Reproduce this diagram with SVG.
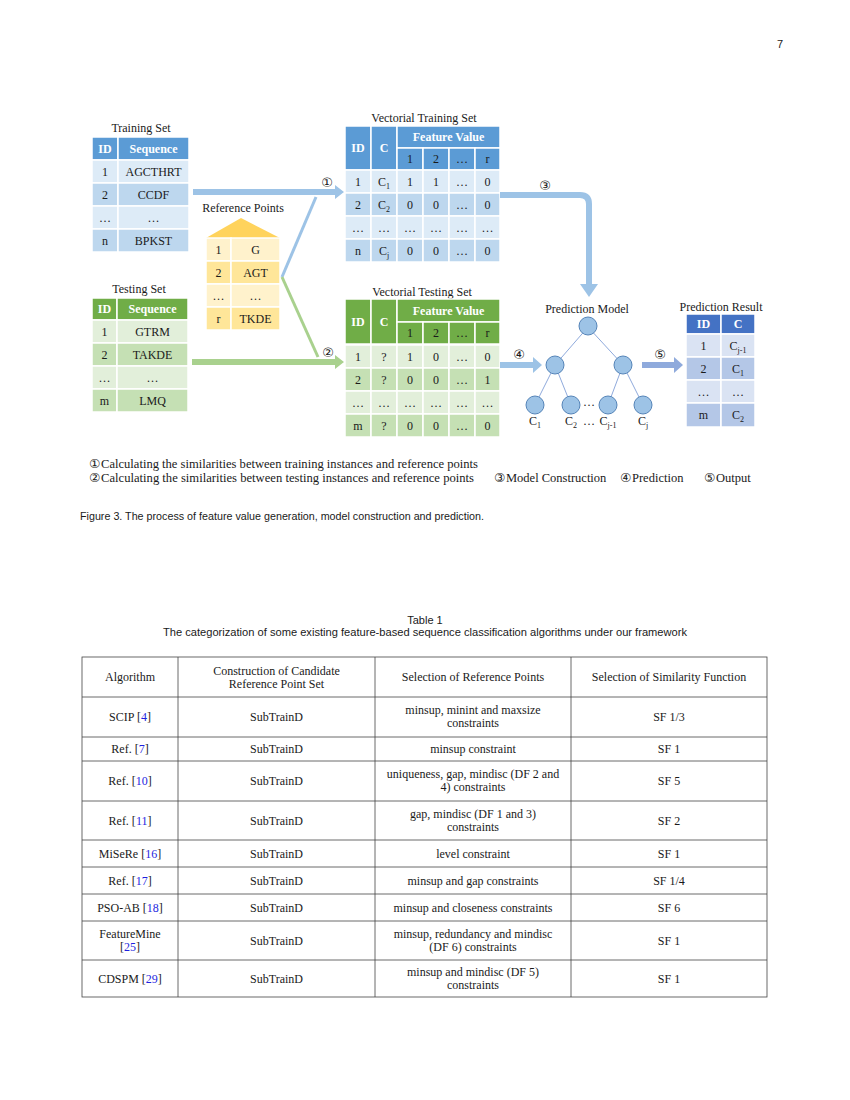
<svg xmlns="http://www.w3.org/2000/svg" width="850" height="1100" viewBox="0 0 850 1100">
<style>
text{font-family:"Liberation Serif","Times New Roman",serif;font-size:12px;fill:#1a1a1a}
.m{text-anchor:middle}
.hw{font-weight:bold;fill:#fff}
.sub{font-size:8px}
rect.c{stroke:#fff;stroke-width:1.5}
.bh{fill:#5B9BD5}.b1{fill:#DDEBF7}.b2{fill:#BDD7EE}
.gh{fill:#70AD47}.g1{fill:#E2EFDA}.g2{fill:#C5E0B4}
.y1{fill:#FFF2CC}.y2{fill:#FFE699}
.ph{fill:#4472C4}.p1{fill:#DAE3F3}.p2{fill:#B4C7E7}
.sans{font-family:"Liberation Sans",Arial,sans-serif;font-size:11px}
.lbl{font-family:"DejaVu Sans",sans-serif;font-size:13px}
.circ{font-family:"DejaVu Sans",sans-serif;font-size:12.5px}
.lg{font-size:12.5px}
.tb{font-size:12px}
.ref{fill:#1f1fe0}
.grid{stroke:#444;stroke-width:0.8;fill:none}
.node{fill:#9DC3E6;stroke:#5584B8;stroke-width:1}
.edge{stroke:#8FAADC;stroke-width:1}
</style>

<text class="sans" x="777" y="48" font-size="10">7</text>

<g id="training-set">
<text class="m" x="141" y="132">Training Set</text>
<rect class="c bh" x="92" y="137" width="26" height="23"/><rect class="c bh" x="118" y="137" width="71" height="23"/>
<rect class="c b1" x="92" y="160" width="26" height="23"/><rect class="c b1" x="118" y="160" width="71" height="23"/>
<rect class="c b2" x="92" y="183" width="26" height="23"/><rect class="c b2" x="118" y="183" width="71" height="23"/>
<rect class="c b1" x="92" y="206" width="26" height="23"/><rect class="c b1" x="118" y="206" width="71" height="23"/>
<rect class="c b2" x="92" y="229" width="26" height="23"/><rect class="c b2" x="118" y="229" width="71" height="23"/>
<text class="m hw" x="105" y="152.5">ID</text><text class="m hw" x="153.5" y="152.5">Sequence</text>
<text class="m" x="105" y="175.5">1</text><text class="m" x="153.5" y="175.5">AGCTHRT</text>
<text class="m" x="105" y="198.5">2</text><text class="m" x="153.5" y="198.5">CCDF</text>
<text class="m" x="105" y="221.5">…</text><text class="m" x="153.5" y="221.5">…</text>
<text class="m" x="105" y="244.5">n</text><text class="m" x="153.5" y="244.5">BPKST</text>
</g>

<g id="testing-set">
<text class="m" x="139" y="293">Testing Set</text>
<rect class="c gh" x="92" y="298" width="25" height="22"/><rect class="c gh" x="117" y="298" width="71" height="22"/>
<rect class="c g1" x="92" y="320" width="25" height="23"/><rect class="c g1" x="117" y="320" width="71" height="23"/>
<rect class="c g2" x="92" y="343" width="25" height="23"/><rect class="c g2" x="117" y="343" width="71" height="23"/>
<rect class="c g1" x="92" y="366" width="25" height="23"/><rect class="c g1" x="117" y="366" width="71" height="23"/>
<rect class="c g2" x="92" y="389" width="25" height="23"/><rect class="c g2" x="117" y="389" width="71" height="23"/>
<text class="m hw" x="104.5" y="313">ID</text><text class="m hw" x="152.5" y="313">Sequence</text>
<text class="m" x="104.5" y="335.5">1</text><text class="m" x="152.5" y="335.5">GTRM</text>
<text class="m" x="104.5" y="358.5">2</text><text class="m" x="152.5" y="358.5">TAKDE</text>
<text class="m" x="104.5" y="381.5">…</text><text class="m" x="152.5" y="381.5">…</text>
<text class="m" x="104.5" y="404.5">m</text><text class="m" x="152.5" y="404.5">LMQ</text>
</g>

<g id="reference-points">
<text class="m" x="243" y="212">Reference Points</text>
<polygon points="206,238 241,218 280,238" fill="#FFD35C"/>
<rect class="c y1" x="206" y="238" width="25" height="23"/><rect class="c y1" x="231" y="238" width="49" height="23"/>
<rect class="c y2" x="206" y="261" width="25" height="23"/><rect class="c y2" x="231" y="261" width="49" height="23"/>
<rect class="c y1" x="206" y="284" width="25" height="23"/><rect class="c y1" x="231" y="284" width="49" height="23"/>
<rect class="c y2" x="206" y="307" width="25" height="23"/><rect class="c y2" x="231" y="307" width="49" height="23"/>
<text class="m" x="218.5" y="253.5">1</text><text class="m" x="255.5" y="253.5">G</text>
<text class="m" x="218.5" y="276.5">2</text><text class="m" x="255.5" y="276.5">AGT</text>
<text class="m" x="218.5" y="299.5">…</text><text class="m" x="255.5" y="299.5">…</text>
<text class="m" x="218.5" y="322.5">r</text><text class="m" x="255.5" y="322.5">TKDE</text>
</g>

<g id="vectorial-training-set">
<text class="m" x="424" y="122">Vectorial Training Set</text>
<rect class="c bh" x="345" y="126" width="26" height="44"/><rect class="c bh" x="371" y="126" width="26" height="44"/>
<rect class="c bh" x="397" y="126" width="103" height="22"/>
<rect class="c bh" x="397" y="148" width="26" height="22"/><rect class="c bh" x="423" y="148" width="26" height="22"/><rect class="c bh" x="449" y="148" width="26" height="22"/><rect class="c bh" x="475" y="148" width="25" height="22"/>
<rect class="c b1" x="345" y="170" width="26" height="23"/><rect class="c b1" x="371" y="170" width="26" height="23"/><rect class="c b1" x="397" y="170" width="26" height="23"/><rect class="c b1" x="423" y="170" width="26" height="23"/><rect class="c b1" x="449" y="170" width="26" height="23"/><rect class="c b1" x="475" y="170" width="25" height="23"/>
<rect class="c b2" x="345" y="193" width="26" height="23"/><rect class="c b2" x="371" y="193" width="26" height="23"/><rect class="c b2" x="397" y="193" width="26" height="23"/><rect class="c b2" x="423" y="193" width="26" height="23"/><rect class="c b2" x="449" y="193" width="26" height="23"/><rect class="c b2" x="475" y="193" width="25" height="23"/>
<rect class="c b1" x="345" y="216" width="26" height="23"/><rect class="c b1" x="371" y="216" width="26" height="23"/><rect class="c b1" x="397" y="216" width="26" height="23"/><rect class="c b1" x="423" y="216" width="26" height="23"/><rect class="c b1" x="449" y="216" width="26" height="23"/><rect class="c b1" x="475" y="216" width="25" height="23"/>
<rect class="c b2" x="345" y="239" width="26" height="23"/><rect class="c b2" x="371" y="239" width="26" height="23"/><rect class="c b2" x="397" y="239" width="26" height="23"/><rect class="c b2" x="423" y="239" width="26" height="23"/><rect class="c b2" x="449" y="239" width="26" height="23"/><rect class="c b2" x="475" y="239" width="25" height="23"/>
<text class="m hw" x="358" y="152">ID</text><text class="m hw" x="384" y="152">C</text><text class="m hw" x="448.5" y="141">Feature Value</text>
<text class="m" x="410" y="163">1</text><text class="m" x="436" y="163">2</text><text class="m" x="462" y="163">…</text><text class="m" x="487.5" y="163">r</text>
<text class="m" x="358" y="185.5">1</text><text class="m" x="384" y="185.5">C<tspan class="sub" dy="3">1</tspan></text><text class="m" x="410" y="185.5">1</text><text class="m" x="436" y="185.5">1</text><text class="m" x="462" y="185.5">…</text><text class="m" x="487.5" y="185.5">0</text>
<text class="m" x="358" y="208.5">2</text><text class="m" x="384" y="208.5">C<tspan class="sub" dy="3">2</tspan></text><text class="m" x="410" y="208.5">0</text><text class="m" x="436" y="208.5">0</text><text class="m" x="462" y="208.5">…</text><text class="m" x="487.5" y="208.5">0</text>
<text class="m" x="358" y="231.5">…</text><text class="m" x="384" y="231.5">…</text><text class="m" x="410" y="231.5">…</text><text class="m" x="436" y="231.5">…</text><text class="m" x="462" y="231.5">…</text><text class="m" x="487.5" y="231.5">…</text>
<text class="m" x="358" y="254.5">n</text><text class="m" x="384" y="254.5">C<tspan class="sub" dy="3">j</tspan></text><text class="m" x="410" y="254.5">0</text><text class="m" x="436" y="254.5">0</text><text class="m" x="462" y="254.5">…</text><text class="m" x="487.5" y="254.5">0</text>
</g>

<g id="vectorial-testing-set">
<text class="m" x="422" y="296">Vectorial Testing Set</text>
<rect class="c gh" x="345" y="299" width="26" height="45"/><rect class="c gh" x="371" y="299" width="26" height="45"/>
<rect class="c gh" x="397" y="299" width="103" height="23"/>
<rect class="c gh" x="397" y="322" width="26" height="22"/><rect class="c gh" x="423" y="322" width="26" height="22"/><rect class="c gh" x="449" y="322" width="26" height="22"/><rect class="c gh" x="475" y="322" width="25" height="22"/>
<rect class="c g1" x="345" y="345" width="26" height="23"/><rect class="c g1" x="371" y="345" width="26" height="23"/><rect class="c g1" x="397" y="345" width="26" height="23"/><rect class="c g1" x="423" y="345" width="26" height="23"/><rect class="c g1" x="449" y="345" width="26" height="23"/><rect class="c g1" x="475" y="345" width="25" height="23"/>
<rect class="c g2" x="345" y="368" width="26" height="23"/><rect class="c g2" x="371" y="368" width="26" height="23"/><rect class="c g2" x="397" y="368" width="26" height="23"/><rect class="c g2" x="423" y="368" width="26" height="23"/><rect class="c g2" x="449" y="368" width="26" height="23"/><rect class="c g2" x="475" y="368" width="25" height="23"/>
<rect class="c g1" x="345" y="391" width="26" height="23"/><rect class="c g1" x="371" y="391" width="26" height="23"/><rect class="c g1" x="397" y="391" width="26" height="23"/><rect class="c g1" x="423" y="391" width="26" height="23"/><rect class="c g1" x="449" y="391" width="26" height="23"/><rect class="c g1" x="475" y="391" width="25" height="23"/>
<rect class="c g2" x="345" y="414" width="26" height="23"/><rect class="c g2" x="371" y="414" width="26" height="23"/><rect class="c g2" x="397" y="414" width="26" height="23"/><rect class="c g2" x="423" y="414" width="26" height="23"/><rect class="c g2" x="449" y="414" width="26" height="23"/><rect class="c g2" x="475" y="414" width="25" height="23"/>
<text class="m hw" x="358" y="325.5">ID</text><text class="m hw" x="384" y="325.5">C</text><text class="m hw" x="448.5" y="314.5">Feature Value</text>
<text class="m" x="410" y="337">1</text><text class="m" x="436" y="337">2</text><text class="m" x="462" y="337">…</text><text class="m" x="487.5" y="337">r</text>
<text class="m" x="358" y="360.5">1</text><text class="m" x="384" y="360.5">?</text><text class="m" x="410" y="360.5">1</text><text class="m" x="436" y="360.5">0</text><text class="m" x="462" y="360.5">…</text><text class="m" x="487.5" y="360.5">0</text>
<text class="m" x="358" y="383.5">2</text><text class="m" x="384" y="383.5">?</text><text class="m" x="410" y="383.5">0</text><text class="m" x="436" y="383.5">0</text><text class="m" x="462" y="383.5">…</text><text class="m" x="487.5" y="383.5">1</text>
<text class="m" x="358" y="406.5">…</text><text class="m" x="384" y="406.5">…</text><text class="m" x="410" y="406.5">…</text><text class="m" x="436" y="406.5">…</text><text class="m" x="462" y="406.5">…</text><text class="m" x="487.5" y="406.5">…</text>
<text class="m" x="358" y="429.5">m</text><text class="m" x="384" y="429.5">?</text><text class="m" x="410" y="429.5">0</text><text class="m" x="436" y="429.5">0</text><text class="m" x="462" y="429.5">…</text><text class="m" x="487.5" y="429.5">0</text>
</g>

<g id="prediction-model">
<text class="m" x="587" y="313">Prediction Model</text>
<line class="edge" x1="588" y1="327" x2="555" y2="365"/><line class="edge" x1="588" y1="327" x2="623" y2="365"/>
<line class="edge" x1="555" y1="365" x2="535" y2="405"/><line class="edge" x1="555" y1="365" x2="571" y2="405"/>
<line class="edge" x1="623" y1="365" x2="608" y2="405"/><line class="edge" x1="623" y1="365" x2="643" y2="405"/>
<circle class="node" cx="588" cy="326" r="9"/>
<circle class="node" cx="555" cy="365" r="9"/><circle class="node" cx="623" cy="365" r="9"/>
<circle class="node" cx="535" cy="405" r="9"/><circle class="node" cx="571" cy="405" r="9"/><circle class="node" cx="608" cy="405" r="9"/><circle class="node" cx="643" cy="405" r="9"/>
<text class="m" x="589" y="406">…</text>
<text class="m" x="535" y="425">C<tspan class="sub" dy="3">1</tspan></text>
<text class="m" x="571" y="425">C<tspan class="sub" dy="3">2</tspan></text>
<text class="m" x="589" y="425">…</text>
<text class="m" x="608" y="425">C<tspan class="sub" dy="3">j-1</tspan></text>
<text class="m" x="643" y="425">C<tspan class="sub" dy="3">j</tspan></text>
</g>

<g id="prediction-result">
<text class="m" x="721" y="311">Prediction Result</text>
<rect class="c ph" x="686" y="314" width="35" height="20"/><rect class="c ph" x="721" y="314" width="34" height="20"/>
<rect class="c p1" x="686" y="334" width="35" height="23"/><rect class="c p1" x="721" y="334" width="34" height="23"/>
<rect class="c p2" x="686" y="357" width="35" height="23"/><rect class="c p2" x="721" y="357" width="34" height="23"/>
<rect class="c p1" x="686" y="380" width="35" height="23"/><rect class="c p1" x="721" y="380" width="34" height="23"/>
<rect class="c p2" x="686" y="403" width="35" height="24"/><rect class="c p2" x="721" y="403" width="34" height="24"/>
<text class="m hw" x="703.5" y="328">ID</text><text class="m hw" x="738" y="328">C</text>
<text class="m" x="703.5" y="349.5">1</text><text class="m" x="738" y="349.5">C<tspan class="sub" dy="3">j-1</tspan></text>
<text class="m" x="703.5" y="372.5">2</text><text class="m" x="738" y="372.5">C<tspan class="sub" dy="3">1</tspan></text>
<text class="m" x="703.5" y="395.5">…</text><text class="m" x="738" y="395.5">…</text>
<text class="m" x="703.5" y="419">m</text><text class="m" x="738" y="419">C<tspan class="sub" dy="3">2</tspan></text>
</g>

<g id="connectors">
<polygon points="193,189 335,189 335,185 344,192 335,199 335,195 193,195" fill="#9DC3E6"/>
<line x1="282" y1="277" x2="316" y2="197" stroke="#9DC3E6" stroke-width="3"/>
<polygon points="192,359 335,359 335,355 344,362 335,369 335,365 192,365" fill="#A9D18E"/>
<line x1="282" y1="277" x2="318" y2="357" stroke="#A9D18E" stroke-width="3"/>
<path d="M500,195 H580 Q589,195 589,204 V285" fill="none" stroke="#9DC3E6" stroke-width="6"/>
<polygon points="580,284 598,284 589,297" fill="#9DC3E6"/>
<polygon points="500,362 533,362 533,357 542,365 533,373 533,368 500,368" fill="#9DC3E6"/>
<polygon points="642,362 674,362 674,357 683,365 674,373 674,368 642,368" fill="#8FAADC"/>
<text class="lbl m" x="327" y="187">①</text>
<text class="lbl m" x="328" y="357">②</text>
<text class="lbl m" x="545" y="190">③</text>
<text class="lbl m" x="519" y="359">④</text>
<text class="lbl m" x="660" y="359">⑤</text>
</g>

<g id="legend">
<text class="circ" x="89" y="468">①</text>
<text class="lg" x="101" y="468" textLength="377" lengthAdjust="spacingAndGlyphs">Calculating the similarities between training instances and reference points</text>
<text class="circ" x="89" y="482">②</text>
<text class="lg" x="101" y="482" textLength="373" lengthAdjust="spacingAndGlyphs">Calculating the similarities between testing instances and reference points</text>
<text class="circ" x="494" y="482">③</text>
<text class="lg" x="506" y="482">Model Construction</text>
<text class="circ" x="620" y="482">④</text>
<text class="lg" x="632" y="482">Prediction</text>
<text class="circ" x="704" y="482">⑤</text>
<text class="lg" x="716" y="482">Output</text>
</g>

<text class="sans" x="80" y="520" textLength="404" lengthAdjust="spacingAndGlyphs">Figure 3. The process of feature value generation, model construction and prediction.</text>

<g id="table-1">
<text class="sans m" x="425" y="624">Table 1</text>
<text class="sans m" x="425" y="636" textLength="524" lengthAdjust="spacingAndGlyphs">The categorization of some existing feature-based sequence classification algorithms under our framework</text>
<rect class="grid" x="82" y="657" width="685" height="340"/>
<path class="grid" d="M178,657V997M375,657V997M571,657V997M82,697H767M82,737H767M82,761H767M82,801H767M82,840H767M82,867H767M82,894H767M82,921H767M82,960H767"/>
<g class="tb">
<text class="m" x="130" y="681">Algorithm</text>
<text class="m" x="276.5" y="675">Construction of Candidate</text>
<text class="m" x="276.5" y="688">Reference Point Set</text>
<text class="m" x="473" y="681">Selection of Reference Points</text>
<text class="m" x="669" y="681">Selection of Similarity Function</text>

<text class="m" x="130" y="721">SCIP [<tspan class="ref">4</tspan>]</text>
<text class="m" x="276.5" y="721">SubTrainD</text>
<text class="m" x="473" y="714">minsup, minint and maxsize</text>
<text class="m" x="473" y="727">constraints</text>
<text class="m" x="669" y="721">SF 1/3</text>

<text class="m" x="130" y="753">Ref. [<tspan class="ref">7</tspan>]</text>
<text class="m" x="276.5" y="753">SubTrainD</text>
<text class="m" x="473" y="753">minsup constraint</text>
<text class="m" x="669" y="753">SF 1</text>

<text class="m" x="130" y="785">Ref. [<tspan class="ref">10</tspan>]</text>
<text class="m" x="276.5" y="785">SubTrainD</text>
<text class="m" x="473" y="778">uniqueness, gap, mindisc (DF 2 and</text>
<text class="m" x="473" y="791">4) constraints</text>
<text class="m" x="669" y="785">SF 5</text>

<text class="m" x="130" y="824.5">Ref. [<tspan class="ref">11</tspan>]</text>
<text class="m" x="276.5" y="824.5">SubTrainD</text>
<text class="m" x="473" y="818">gap, mindisc (DF 1 and 3)</text>
<text class="m" x="473" y="831">constraints</text>
<text class="m" x="669" y="824.5">SF 2</text>

<text class="m" x="130" y="857.5">MiSeRe [<tspan class="ref">16</tspan>]</text>
<text class="m" x="276.5" y="857.5">SubTrainD</text>
<text class="m" x="473" y="857.5">level constraint</text>
<text class="m" x="669" y="857.5">SF 1</text>

<text class="m" x="130" y="884.5">Ref. [<tspan class="ref">17</tspan>]</text>
<text class="m" x="276.5" y="884.5">SubTrainD</text>
<text class="m" x="473" y="884.5">minsup and gap constraints</text>
<text class="m" x="669" y="884.5">SF 1/4</text>

<text class="m" x="130" y="911.5">PSO-AB [<tspan class="ref">18</tspan>]</text>
<text class="m" x="276.5" y="911.5">SubTrainD</text>
<text class="m" x="473" y="911.5">minsup and closeness constraints</text>
<text class="m" x="669" y="911.5">SF 6</text>

<text class="m" x="130" y="938">FeatureMine</text>
<text class="m" x="130" y="951">[<tspan class="ref">25</tspan>]</text>
<text class="m" x="276.5" y="944.5">SubTrainD</text>
<text class="m" x="473" y="938">minsup, redundancy and mindisc</text>
<text class="m" x="473" y="951">(DF 6) constraints</text>
<text class="m" x="669" y="944.5">SF 1</text>

<text class="m" x="130" y="982.5">CDSPM [<tspan class="ref">29</tspan>]</text>
<text class="m" x="276.5" y="982.5">SubTrainD</text>
<text class="m" x="473" y="976">minsup and mindisc (DF 5)</text>
<text class="m" x="473" y="989">constraints</text>
<text class="m" x="669" y="982.5">SF 1</text>
</g>
</g>
</svg>
